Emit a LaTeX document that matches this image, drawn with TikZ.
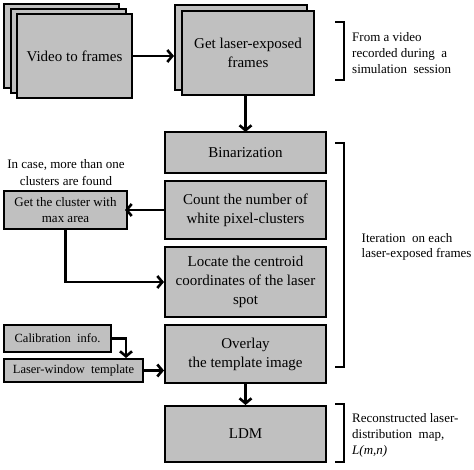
\documentclass[tikz,border=0pt]{standalone}
\usepackage{fontspec}
\setmainfont{Liberation Serif}
\usetikzlibrary{arrows.meta}
\definecolor{boxgray}{RGB}{192,192,192}
\tikzset{
  box/.style={draw=black, fill=boxgray, line width=2pt, align=center, inner sep=2pt,
              font=\fontsize{15}{19}\selectfont},
  smallbox/.style={box, font=\fontsize{13}{16}\selectfont},
  arr/.style={line width=2.6pt, -{Straight Barb[length=5pt,width=12pt,line width=2.6pt]}},
  brk/.style={line width=2.6pt},
  ann/.style={align=left, anchor=west, inner sep=0pt, font=\fontsize{13}{16}\selectfont},
}
\begin{document}
\begin{tikzpicture}[x=1pt,y=-1pt]
\useasboundingbox (0,0) rectangle (474,470);
% stacked "video to frames"
\node[box, minimum width=115pt, minimum height=84pt] (vfA) at (61.5,46) {};
\node[box, minimum width=115pt, minimum height=84pt] (vfB) at (68,51) {};
\node[box, minimum width=115pt, minimum height=84pt] (vfC) at (74.5,56) {Video to frames};
% stacked "get laser-exposed frames"
\node[box, minimum width=132pt, minimum height=85pt] (glA) at (241,47.5) {};
\node[box, minimum width=132pt, minimum height=84pt] (glB) at (248,53) {Get laser-exposed\\frames};
% main column
\node[box, minimum width=161pt, minimum height=41pt] (bin) at (245.5,152.5) {Binarization};
\node[box, minimum width=161pt, minimum height=58pt] (cnt) at (245.5,210) {Count the number of\\white pixel-clusters};
\node[box, minimum width=161pt, minimum height=70pt] (loc) at (245.5,282) {Locate the centroid\\coordinates of the laser\\spot};
\node[box, minimum width=161pt, minimum height=58pt] (ovl) at (245.5,354) {Overlay\\the template image};
\node[box, minimum width=161pt, minimum height=56pt] (ldm) at (245.5,434) {LDM};
% left side
\node[smallbox, minimum width=123pt, minimum height=38pt] (clu) at (65.5,210) {Get the cluster with\\max area};
\node[align=center, inner sep=0pt, font=\fontsize{13}{17}\selectfont] (case) at (66,172.5) {In case, more than one\\clusters are found};
\node[smallbox, font=\fontsize{12.5}{15}\selectfont, minimum width=107pt, minimum height=27pt] (cal) at (57.5,338.5) {Calibration\ \ info.};
\node[smallbox, font=\fontsize{12.5}{15}\selectfont, minimum width=139pt, minimum height=23pt] (lwt) at (73.5,370.5) {Laser-window\ \ template};
% connectors
\draw[arr] (vfC.east) -- (vfC.east -| glA.west);
\draw[arr] (bin.north |- glB.south) -- ([yshift=-1pt]bin.north);
\draw[arr] (cnt.west) -- ([xshift=-3pt]cnt.west -| clu.east);
\draw[arr] (clu.south) |- (loc.west);
\draw[arr] (cal.east) -| ([xshift=-18pt]lwt.north east);
\draw[arr] (lwt.east) -- (lwt.east -| ovl.west);
\draw[arr] (ovl.south) -- (ldm.north);
% brackets
\coordinate (b1t) at (335,22); \coordinate (b1b) at (335,80);
\coordinate (b2t) at (335,143); \coordinate (b2b) at (335,367);
\coordinate (b3t) at (335,404); \coordinate (b3b) at (335,462);
\draw[brk] (b1t) -- ++(9,0) -- ++(0,58) -- (b1b);
\draw[brk] (b2t) -- ++(9,0) -- ++(0,224) -- (b2b);
\draw[brk] (b3t) -- ++(9,0) -- ++(0,58) -- (b3b);
% annotations
\node[ann] (a1) at (352,53) {From a video\\recorded during\ \ a\\simulation\ \ session};
\node[ann, font=\fontsize{13}{15}\selectfont] (a2) at (361.5,247) {Iteration\ \ on each\\laser-exposed frames};
\node[ann] (a3) at (352,435.5) {Reconstructed laser-\\distribution\ \ map,\\\textit{L(m,n)}};
\end{tikzpicture}
\end{document}
